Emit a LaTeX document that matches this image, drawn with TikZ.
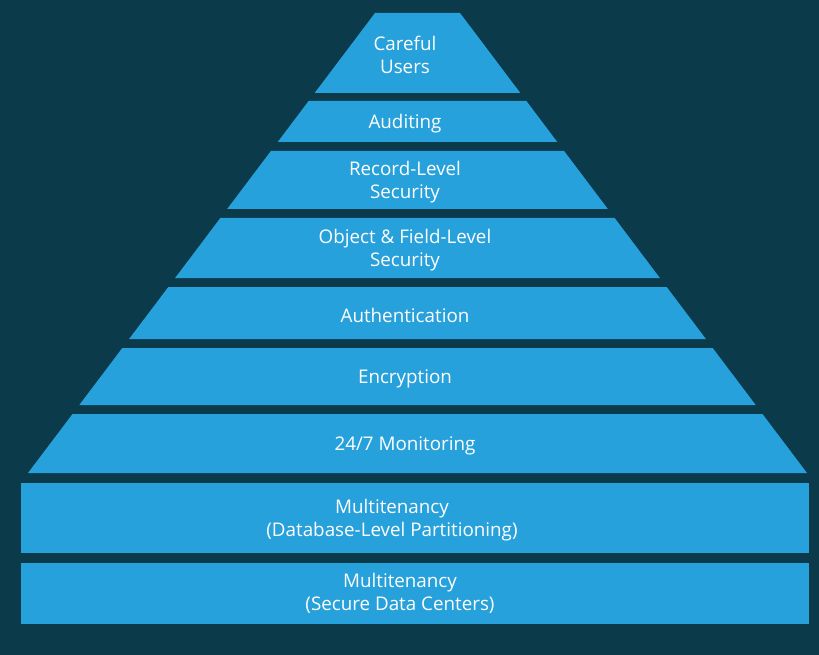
\documentclass[tikz,border=0pt]{standalone}
\usepackage{fontspec}
\setmainfont{Open Sans}
\definecolor{bgteal}{HTML}{0B3A4B}
\definecolor{layerblue}{HTML}{27A1DB}
\begin{document}
\begin{tikzpicture}[x=1pt,y=-1pt,
  layer/.style={fill=layerblue},
  lbl/.style={text=white,align=center,inner sep=0pt,font=\fontsize{18.8}{23}\selectfont}]
%ozadje
\fill[bgteal] (0,0) rectangle (819,655);
\useasboundingbox (0,0) rectangle (819,655);

%piramida (levi rob x=375-0.7543(y-13), desni x=460+0.7543(y-13))
\foreach \t/\b/\n/\txt in {13/93/careful/{Careful\\Users},
    101/142/audit/{Auditing},
    151/209/record/{Record-Level\\Security},
    218/278/object/{Object \& Field-Level\\Security},
    287/339/auth/{Authentication},
    348/405/encr/{Encryption},
    414/473/monit/{24/7 Monitoring}}{
  \pgfmathsetmacro{\lt}{375-0.7543*(\t-13)}
  \pgfmathsetmacro{\lb}{375-0.7543*(\b-13)}
  \pgfmathsetmacro{\rt}{460+0.7543*(\t-13)}
  \pgfmathsetmacro{\rb}{460+0.7543*(\b-13)}
  \fill[layer] (\lt,\t)--(\rt,\t)--(\rb,\b)--(\lb,\b)--cycle;
  \node[lbl] (\n) at (405,{(\t+\b)/2+2}) {\txt};
}

%temelj
\fill[layer] (21,483) rectangle (809,553);
\node[lbl] (dbpart) at (392,520) {Multitenancy\\(Database-Level Partitioning)};
\fill[layer] (21,563) rectangle (809,624);
\node[lbl] (datacent) at (400,593.5) {Multitenancy\\(Secure Data Centers)};
\end{tikzpicture}
\end{document}
